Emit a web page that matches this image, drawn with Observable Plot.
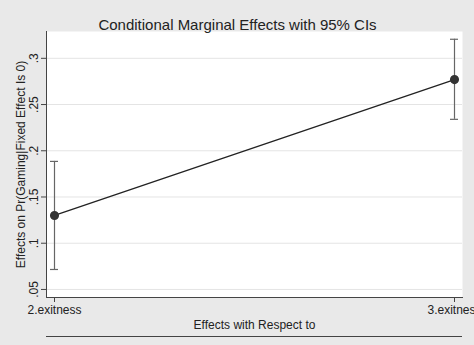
<!DOCTYPE html>
<html>
<head>
<meta charset="utf-8">
<script src="https://cdn.jsdelivr.net/npm/d3@7"></script>
<script src="https://cdn.jsdelivr.net/npm/@observablehq/plot@0.6"></script>
<style>
  html, body { margin: 0; padding: 0; background: #e9e9e9; }
  #wrap { position: relative; width: 474px; height: 345px; overflow: hidden; font-family: "Liberation Sans", Arial, sans-serif; }
  #legendline { position: absolute; left: 46px; width: 416px; top: 336px; border-top: 1.5px solid #444; }
</style>
</head>
<body>
<div id="wrap"><div id="legendline"></div></div>
<script>
const categories = ["2.exitness", "3.exitness"];
const positions = [0, 1];
const estimates = [0.130, 0.277];
const lower = [0.0716, 0.234];
const upper = [0.1885, 0.3206];
const yTicks = [0.05, 0.1, 0.15, 0.2, 0.25, 0.3];
const yTickLabels = [".05", ".1", ".15", ".2", ".25", ".3"];

const data = categories.map((c, i) => ({cat: c, x: positions[i], est: estimates[i], lo: lower[i], hi: upper[i]}));
const capHalf = 0.01;

const chart = Plot.plot({
  width: 474,
  height: 345,
  marginLeft: 46,
  marginRight: 12,
  marginTop: 31,
  marginBottom: 48,
  style: {background: "transparent", fontFamily: "Liberation Sans, Arial, sans-serif", fontSize: "12px", color: "#222"},
  x: {domain: [-0.02, 1.02]},
  y: {domain: [0.0413, 0.329]},
  marks: [
    Plot.frame({fill: "white", stroke: null}),
    Plot.gridY(yTicks, {stroke: "#e4e4e4", strokeOpacity: 1}),
    Plot.axisY(yTicks, {tickFormat: (d) => yTickLabels[yTicks.indexOf(d)], tickRotate: -90, tickSize: 5, tickPadding: 4, stroke: "#444", fill: "#222", fontSize: 12, label: "Effects on Pr(Gaming|Fixed Effect Is 0)", labelAnchor: "center", labelArrow: "none", labelOffset: 30}),
    Plot.axisX(positions, {tickFormat: (d) => categories[positions.indexOf(d)], tickSize: 5, tickPadding: 3, stroke: "#444", fill: "#222", fontSize: 12, label: "Effects with Respect to", labelAnchor: "center", labelArrow: "none", labelOffset: 31}),
    Plot.frame({anchor: "left", stroke: "#444"}),
    Plot.frame({anchor: "bottom", stroke: "#444"}),
    Plot.ruleX(data, {x: "x", y1: "lo", y2: "hi", stroke: "#666", strokeWidth: 1.2}),
    Plot.ruleY(data, {y: "lo", x1: (d) => d.x - capHalf, x2: (d) => d.x + capHalf, stroke: "#666", strokeWidth: 1.2}),
    Plot.ruleY(data, {y: "hi", x1: (d) => d.x - capHalf, x2: (d) => d.x + capHalf, stroke: "#666", strokeWidth: 1.2}),
    Plot.line(data, {x: "x", y: "est", stroke: "#222", strokeWidth: 1.3}),
    Plot.dot(data, {x: "x", y: "est", r: 3.8, fill: "#333", stroke: "#333"}),
    Plot.text(["Conditional Marginal Effects with 95% CIs"], {frameAnchor: "top", dx: -17, dy: -12, fontSize: 15, fill: "#222"})
  ]
});
document.getElementById("wrap").prepend(chart);
</script>
</body>
</html>
